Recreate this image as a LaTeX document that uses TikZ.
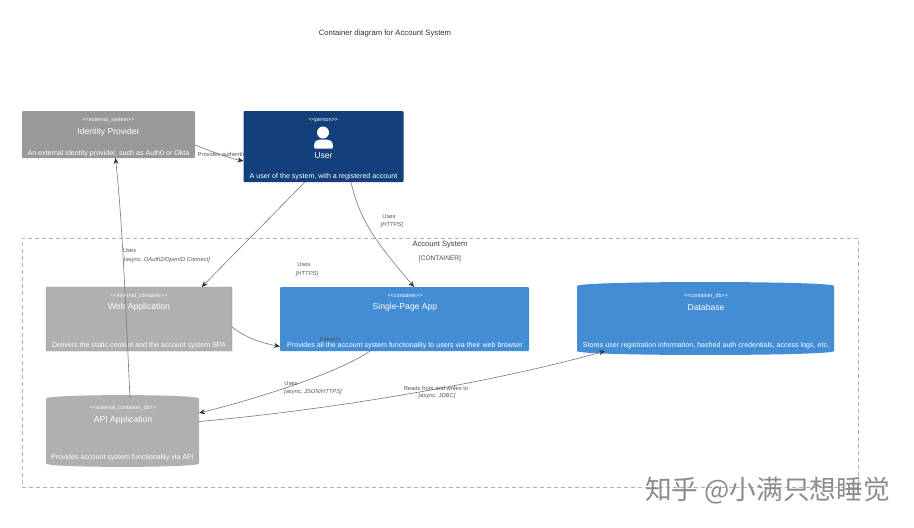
\documentclass[tikz,border=0pt]{standalone}
\usepackage{fontspec}
\setmainfont{Liberation Sans}
\newfontfamily\cjkwm{Noto Sans CJK SC}
\usetikzlibrary{arrows.meta}
\definecolor{extgrey}{HTML}{999999}
\definecolor{extlight}{HTML}{B0B0B0}
\definecolor{navy}{HTML}{13407A}
\definecolor{blue}{HTML}{438DD5}
\definecolor{edgegrey}{HTML}{777777}
\definecolor{labelgrey}{HTML}{555555}
\newcommand{\ltlt}{<{}<}
\newcommand{\gtgt}{>{}>}
\tikzset{
  shape box/.style={rectangle,inner sep=0pt,outer sep=0pt,rounded corners=1pt},
  ster/.style={inner sep=0pt,yshift=-1pt,text=white,font=\fontsize{5.4}{6}\selectfont},
  ttl/.style={inner sep=0pt,yshift=-1pt,text=white,font=\fontsize{8.6}{10}\selectfont},
  desc/.style={inner sep=0pt,yshift=-1pt,text=white,font=\fontsize{7.1}{8}\selectfont},
  elabel/.style={inner sep=0pt,yshift=-1pt,text=labelgrey,font=\fontsize{5.8}{7}\selectfont},
  etech/.style={inner sep=0pt,yshift=-1pt,text=labelgrey,font=\fontsize{5.8}{7}\selectfont\itshape},
  conn/.style={draw=edgegrey,line width=0.6pt,-{Stealth[length=6pt,width=5pt,color=black!80]}},
  cyl body/.style={rectangle,inner sep=0pt,outer sep=0pt,draw=none,fill=none}
}
\begin{document}
\begin{tikzpicture}[x=1pt,y=-1pt]
\useasboundingbox[fill=white] (0,0) rectangle (914,528);
% title
\node[inner sep=0pt,yshift=-1.5pt,text=black!80,font=\fontsize{7.7}{9}\selectfont] (title) at (385,32) {Container diagram for Account System};
% boundary
\node[rectangle,inner sep=0pt,draw=black!30,dash pattern=on 4pt off 3pt,line width=1pt,minimum width=836pt,minimum height=249pt] (boundary) at (440,362.5) {};
\node[inner sep=0pt,yshift=-1pt,text=black!75,font=\fontsize{7.6}{9}\selectfont] (bname) at (440,243.5) {Account System};
\node[inner sep=0pt,yshift=-1pt,text=black!70,font=\fontsize{6.6}{8}\selectfont] (btype) at (440,258) {[CONTAINER]};
% label hidden behind the user box
\node[elabel,anchor=west] (lprov) at (197.5,153) {Provides authentication for};
% boxes
\node[shape box,fill=extgrey,minimum width=173pt,minimum height=47pt] (idp) at (108.5,134.5) {};
\node[shape box,fill=navy,minimum width=160pt,minimum height=71pt] (user) at (323.5,146.5) {};
\node[shape box,fill=extlight,draw=black!40,line width=0.4pt,minimum width=186pt,minimum height=64pt] (web) at (139,319) {};
\node[shape box,fill=blue,minimum width=249pt,minimum height=64pt] (spa) at (404.5,319) {};
% cylinders
\fill[blue] (577,286) .. controls (577,280.7) and (834,280.7) .. (834,286) -- (834,351) .. controls (834,356.3) and (577,356.3) .. (577,351) -- cycle;
\node[cyl body,minimum width=257pt,minimum height=73pt] (db) at (705.5,318.5) {};
\fill[extlight] (46,398.5) .. controls (46,394) and (199,394) .. (199,398.5) -- (199,463.5) .. controls (199,468) and (46,468) .. (46,463.5) -- cycle;
\node[cyl body,minimum width=153pt,minimum height=72pt] (api) at (122.5,431) {};
% person icon
\fill[white] (323,132.5) circle (6pt);
\fill[white] (314,146.5) .. controls (314,141) and (317,139.5) .. (320,139.5) -- (327,139.5) .. controls (330,139.5) and (333,141) .. (333,146.5) -- (333,147) .. controls (333,148) and (332.5,148.5) .. (332,148.5) -- (315,148.5) .. controls (314.5,148.5) and (314,148) .. (314,147) -- cycle;
% box texts
\node[ster] (s1) at (108.5,119) {\ltlt external\_system\gtgt};
\node[ttl] (t1) at (108.5,131) {Identity Provider};
\node[desc] (d1) at (108.5,153) {An external identity provider, such as Auth0 or Okta};
\node[ster] (s2) at (323.5,119) {\ltlt person\gtgt};
\node[ttl] (t2) at (323.5,154.5) {User};
\node[desc] (d2) at (323.5,175.5) {A user of the system, with a registered account};
\node[ster] (s3) at (139,295) {\ltlt external\_container\gtgt};
\node[ttl] (t3) at (139,306) {Web Application};
\node[desc] (d3) at (139,344.5) {Delivers the static content and the account system SPA};
\node[ster] (s4) at (405,295) {\ltlt container\gtgt};
\node[ttl] (t4) at (405,306) {Single-Page App};
\node[desc] (d4) at (405,344.5) {Provides all the account system functionality to users via their web browser};
\node[ster] (s5) at (706,295) {\ltlt container\_db\gtgt};
\node[ttl] (t5) at (706,306) {Database};
\node[desc] (d5) at (706,344.5) {Stores user registration information, hashed auth credentials, access logs, etc.};
\node[ster] (s6) at (123,407) {\ltlt external\_container\_db\gtgt};
\node[ttl] (t6) at (123,419.5) {API Application};
\node[desc] (d6) at (122.5,456.5) {Provides account system functionality via API};
% connectors
\draw[conn] (idp.east) ++(0,10.5) .. controls +(15,6) and +(-15,-3) .. ([yshift=-14.5pt]user.west);
\draw[conn] ([xshift=-18.5pt]user.south) -- ([xshift=62.7pt]web.north);
\draw[conn] ([xshift=27.5pt]user.south) .. controls +(9,43) and +(-29,-35) .. ([xshift=9.5pt]spa.north);
\draw[conn] ([yshift=-8pt]web.east) .. controls +(14,11) and +(-18,-3.5) .. ([yshift=-27.5pt]spa.west);
\draw[conn] ([xshift=-34.5pt]spa.south) .. controls +(-30,21) and +(61,-15) .. ([yshift=18pt]api.east);
\draw[conn] ([yshift=9.5pt]api.east) .. controls +(151,-13.5) and +(-95,27) .. ([xshift=-100.5pt,yshift=4pt]db.south);
\draw[conn] ([xshift=7.5pt]api.north) ++(0,3) .. controls +(-5,-108) and +(6.5,62) .. ([xshift=7pt]idp.south);
% edge labels
\node[elabel] (l1) at (389,216) {Uses};
\node[etech] (l1t) at (392,223.5) {[HTTPS]};
\node[elabel] (l2) at (129.5,250) {Uses};
\node[etech] (l2t) at (167,259) {[async, OAuth2/OpenID Connect]};
\node[elabel] (l3) at (304,264) {Uses};
\node[etech] (l3t) at (307,273) {[HTTPS]};
\node[elabel] (l4) at (330,338) {Delivers};
\node[elabel] (l5) at (291,383) {Uses};
\node[etech] (l5t) at (313,391) {[async, JSON/HTTPS]};
\node[elabel] (l6) at (436,387) {Reads from and writes to};
\node[etech] (l6t) at (437,395) {[async, JDBC]};
% watermark
\node[inner sep=0pt,text=black!45,font=\fontsize{26.7}{30}\cjkwm] (wm) at (767.5,491) {知乎 @小满只想睡觉};
\end{tikzpicture}
\end{document}
